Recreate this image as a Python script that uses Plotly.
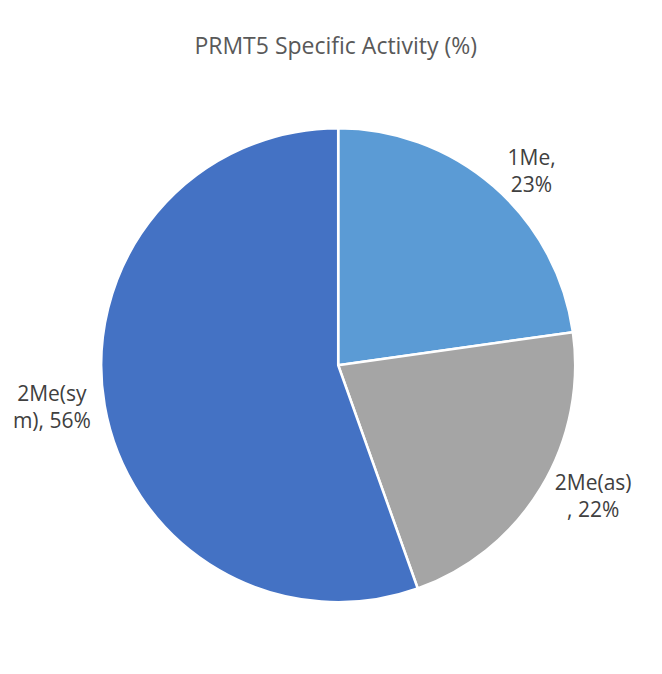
import plotly.graph_objects as go

labels = ["1Me", "2Me(as)", "2Me(sym)"]
values = [23, 22, 56]
texts = ["1Me,<br>23%", "2Me(as)<br>, 22%", "2Me(sy<br>m), 56%"]
colors = ["#5B9BD5", "#A5A5A5", "#4472C4"]

fig = go.Figure(go.Pie(
    labels=labels, values=values, text=texts,
    textinfo="text", textposition="outside",
    sort=False, direction="clockwise", rotation=0,
    marker=dict(colors=colors, line=dict(color="white", width=2.5)),
    textfont=dict(size=21, color="#404040"),
    domain=dict(x=[0.1, 0.85], y=[0.1, 0.84]),
    showlegend=False,
))

fig.update_layout(
    title=dict(text="PRMT5 Specific Activity (%)", x=0.495, y=0.955,
               font=dict(size=23, color="#595959")),
    font=dict(family="Open Sans"),
    width=662, height=674,
    margin=dict(l=0, r=0, t=0, b=0),
    paper_bgcolor="white",
)

fig.write_html("out.html")
